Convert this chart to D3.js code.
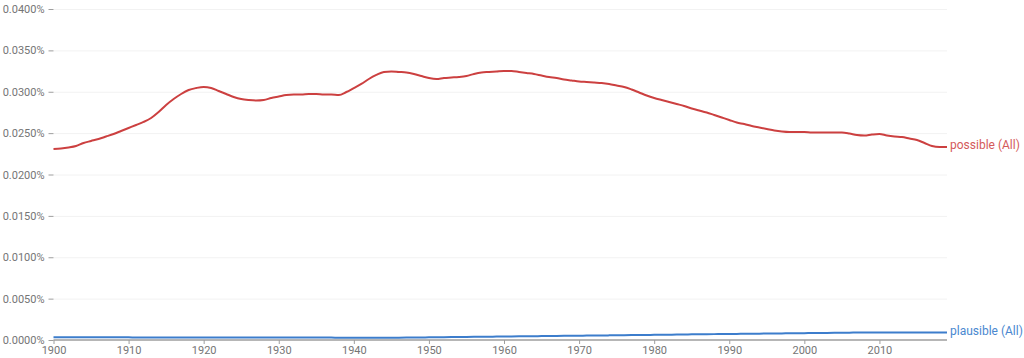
<!DOCTYPE html>
<html>
<head>
<meta charset="utf-8">
<script src="https://cdn.jsdelivr.net/npm/d3@7"></script>
<style>
  body { margin: 0; background: #fff; }
  svg { display: block; font-family: Roboto, "Open Sans", sans-serif; }
</style>
</head>
<body>
<div id="chart"></div>
<script>
// Years 1900..2019, values in percent.
const startYear = 1900;
const endYear = 2019;

const possible = [
  0.02308, 0.02314, 0.02326, 0.02344, 0.02381, 0.02405, 0.02429, 0.02459, 0.02490, 0.02526,
  0.02562, 0.02598, 0.02635, 0.02683, 0.02755, 0.02840, 0.02912, 0.02973, 0.03021, 0.03045,
  0.03058, 0.03045, 0.03009, 0.02973, 0.02937, 0.02912, 0.02900, 0.02894, 0.02900, 0.02925,
  0.02943, 0.02961, 0.02967, 0.02967, 0.02973, 0.02973, 0.02967, 0.02967, 0.02961, 0.02997,
  0.03045, 0.03094, 0.03154, 0.03203, 0.03239, 0.03245, 0.03239, 0.03233, 0.03215, 0.03190,
  0.03166, 0.03154, 0.03166, 0.03172, 0.03178, 0.03190, 0.03215, 0.03233, 0.03239, 0.03245,
  0.03251, 0.03251, 0.03239, 0.03227, 0.03215, 0.03196, 0.03178, 0.03166, 0.03148, 0.03136,
  0.03124, 0.03118, 0.03112, 0.03106, 0.03094, 0.03076, 0.03058, 0.03027, 0.02991, 0.02955,
  0.02925, 0.02900, 0.02876, 0.02852, 0.02828, 0.02798, 0.02774, 0.02749, 0.02719, 0.02689,
  0.02659, 0.02628, 0.02610, 0.02586, 0.02568, 0.02550, 0.02532, 0.02520, 0.02514, 0.02514,
  0.02514, 0.02508, 0.02508, 0.02508, 0.02508, 0.02508, 0.02496, 0.02477, 0.02471, 0.02483,
  0.02490, 0.02471, 0.02459, 0.02453, 0.02435, 0.02417, 0.02381, 0.02344, 0.02332, 0.02332
];

const plausible = [
  0.00034, 0.00034, 0.00034, 0.00034, 0.00033, 0.00033, 0.00033, 0.00033, 0.00032, 0.00032,
  0.00032, 0.00031, 0.00031, 0.00031, 0.00030, 0.00030, 0.00030, 0.00030, 0.00029, 0.00029,
  0.00030, 0.00030, 0.00030, 0.00029, 0.00029, 0.00029, 0.00029, 0.00029, 0.00029, 0.00029,
  0.00029, 0.00029, 0.00030, 0.00030, 0.00029, 0.00029, 0.00029, 0.00029, 0.00028, 0.00028,
  0.00027, 0.00026, 0.00026, 0.00026, 0.00026, 0.00027, 0.00028, 0.00029, 0.00030, 0.00031,
  0.00032, 0.00033, 0.00034, 0.00035, 0.00036, 0.00037, 0.00038, 0.00039, 0.00040, 0.00041,
  0.00042, 0.00043, 0.00044, 0.00045, 0.00046, 0.00047, 0.00048, 0.00049, 0.00050, 0.00051,
  0.00052, 0.00053, 0.00054, 0.00055, 0.00056, 0.00057, 0.00058, 0.00059, 0.00060, 0.00061,
  0.00062, 0.00063, 0.00064, 0.00066, 0.00067, 0.00068, 0.00069, 0.00070, 0.00071, 0.00072,
  0.00073, 0.00074, 0.00075, 0.00076, 0.00077, 0.00078, 0.00079, 0.00080, 0.00081, 0.00082,
  0.00083, 0.00084, 0.00085, 0.00086, 0.00087, 0.00088, 0.00089, 0.00090, 0.00091, 0.00091,
  0.00092, 0.00092, 0.00092, 0.00092, 0.00091, 0.00091, 0.00091, 0.00091, 0.00090, 0.00090
];

const seriesNames = ["possible (All)", "plausible (All)"];
const seriesColors = ["#cc4040", "#3c7dcc"];
const labelColors = ["#d45a5a", "#4a88d0"];
const yTicks = [0, 0.005, 0.01, 0.015, 0.02, 0.025, 0.03, 0.035, 0.04];
const xTicks = [1900, 1910, 1920, 1930, 1940, 1950, 1960, 1970, 1980, 1990, 2000, 2010];

const width = 1024;
const height = 358;
const margin = {top: 9, right: 77, bottom: 18, left: 53.5};

const svg = d3.select("#chart")
    .append("svg")
    .attr("width", width)
    .attr("height", height);

const years = d3.range(startYear, endYear + 1);

const x = d3.scaleLinear().domain([startYear, endYear]).range([margin.left, width - margin.right]);
const y = d3.scaleLinear().domain([0, 0.04]).range([height - margin.bottom, margin.top]);

// Grid lines
svg.append("g")
    .selectAll("line")
    .data(yTicks.slice(1))
    .enter()
    .append("line")
    .attr("x1", margin.left)
    .attr("x2", width - margin.right)
    .attr("y1", d => y(d) + 0.5)
    .attr("y2", d => y(d) + 0.5)
    .attr("stroke", "#f2f2f2")
    .attr("stroke-width", 1);

// Y axis labels and ticks
const yAxis = svg.append("g")
    .attr("transform", `translate(${margin.left},0)`)
    .call(d3.axisLeft(y).tickValues(yTicks).tickSize(5).tickPadding(4).tickFormat(d => d3.format(".4f")(d) + "%"));
yAxis.select(".domain").remove();
yAxis.selectAll(".tick line").attr("stroke", "#9e9e9e");
yAxis.selectAll(".tick text").attr("fill", "#757575").attr("font-size", "11px").attr("font-family", "Roboto, sans-serif");

// X axis
const xAxis = svg.append("g")
    .attr("transform", `translate(0,${height - margin.bottom})`)
    .call(d3.axisBottom(x).tickValues(xTicks).tickSize(4).tickPadding(2).tickFormat(d3.format("d")));
xAxis.select(".domain").attr("stroke", "#9e9e9e").attr("stroke-width", 1.5).attr("d", `M${margin.left},0H${width - margin.right}`);
xAxis.selectAll(".tick line").attr("stroke", "#9e9e9e");
xAxis.selectAll(".tick text").attr("fill", "#757575").attr("font-size", "11px").attr("font-family", "Roboto, sans-serif");

const line = d3.line()
    .x((d, i) => x(years[i]))
    .y(d => y(d))
    .curve(d3.curveMonotoneX);

[possible, plausible].forEach((series, k) => {
    svg.append("path")
        .datum(series)
        .attr("fill", "none")
        .attr("stroke", seriesColors[k])
        .attr("stroke-width", 2)
        .attr("d", line);

    svg.append("text")
        .attr("x", x(endYear) + 3)
        .attr("y", y(series[series.length - 1]) - 2)
        .attr("dy", "0.35em")
        .attr("fill", labelColors[k])
        .attr("font-size", "12px")
        .text(seriesNames[k]);
});
</script>
</body>
</html>
